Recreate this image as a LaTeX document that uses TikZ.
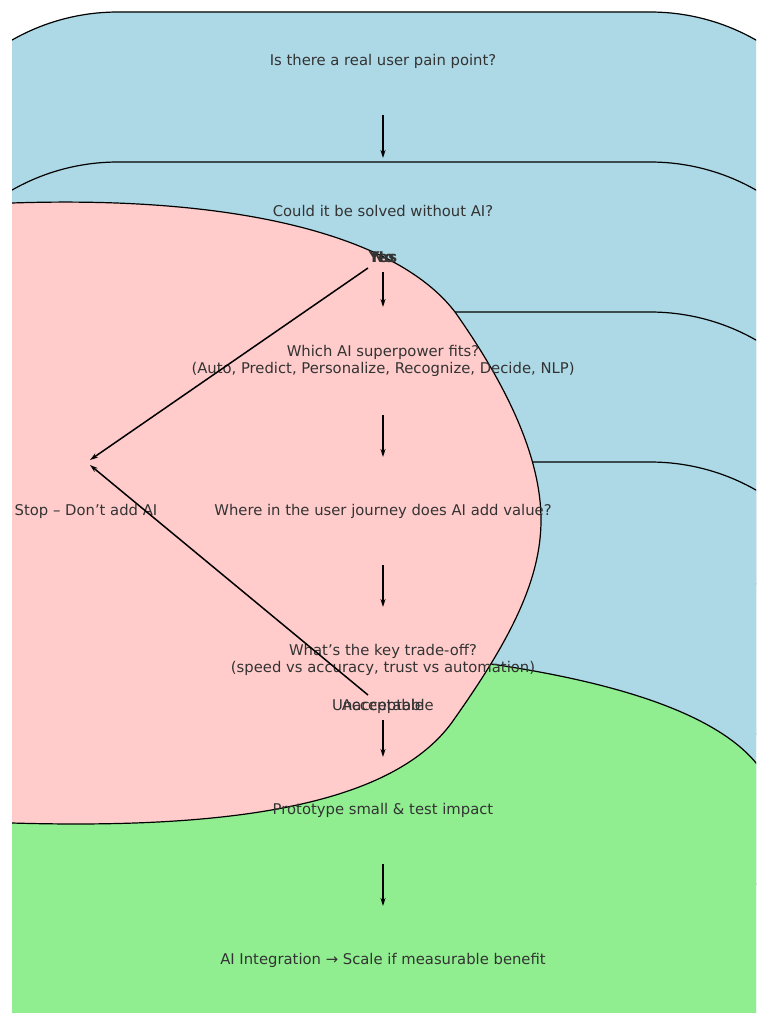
\documentclass[tikz,border=0pt]{standalone}
\usepackage{fontspec}
\setmainfont{DejaVu Sans}
\usetikzlibrary{arrows.meta}
\definecolor{boxblue}{HTML}{ADD8E6}
\definecolor{boxpink}{HTML}{FFCCCB}
\definecolor{boxgreen}{HTML}{90EE90}
\definecolor{txtgray}{HTML}{333333}
\tikzset{
	label/.style={text=txtgray, font=\fontsize{14.8}{17}\selectfont, align=center, inner sep=1pt},
	flow/.style={-{Stealth[length=8pt,width=5pt]}, line width=1.5pt},
	panel/.style={draw=black, line width=1.2pt}
}
\begin{document}
\begin{tikzpicture}[x=1pt,y=-1pt]
		\useasboundingbox (0,0) rectangle (768,1024);
		\fill[white] (0,0) rectangle (768,1024);

		\begin{scope}
			\clip (12,12) rectangle (756,1012);
			\foreach \top in {12,162,312,462} {
				\draw[panel, fill=boxblue, rounded corners=214pt] (-96,\top) rectangle (864,{\top+600});
			}
			\draw[panel, fill=boxgreen] (-20,680) -- (420,655) .. controls (560,670) and (710,700) .. (760,768) -- (760,1020) -- (-20,1020) -- cycle;
			\draw[panel, fill=boxpink] (-20,204) -- (12,203) .. controls (250,195) and (400,240) .. (455,312) .. controls (510,390) and (541,460) .. (541,520) .. controls (541,580) and (510,640) .. (455,718) .. controls (400,800) and (250,830) .. (12,823) -- (-20,822) -- cycle;
		\end{scope}

		\node[label] (pain) at (383,61) {Is there a real user pain point?};
		\node[label] (noai) at (383,211) {Could it be solved without AI?};
		\node[label] (yes) at (383,257) {\textbf{Yes}};
		\node[label] at (383,257) {\textbf{No}};
		\node[label] (power) at (383,361) {Which AI superpower fits?\\(Auto, Predict, Personalize, Recognize, Decide, NLP)};
		\node[label] (journey) at (383,511) {Where in the user journey does AI add value?};
		\node[label] (trade) at (383,660) {What’s the key trade-off?\\(speed vs accuracy, trust vs automation)};
		\node[label] (ok) at (383,706) {Acceptable};
		\node[label] at (383,706) {Unacceptable};
		\node[label] (proto) at (383,810) {Prototype small \& test impact};
		\node[label] (scale) at (383,960) {AI Integration → Scale if measurable benefit};
		\node[label] (stop) at (86,511) {Stop – Don’t add AI};

		\coordinate (a1) at (383,115); \coordinate (b1) at (383,158);
		\coordinate (a2) at (383,272); \coordinate (b2) at (383,307);
		\coordinate (a3) at (383,415); \coordinate (b3) at (383,457);
		\coordinate (a4) at (383,565); \coordinate (b4) at (383,607);
		\coordinate (a5) at (383,720); \coordinate (b5) at (383,757);
		\coordinate (a6) at (383,864); \coordinate (b6) at (383,906);
		\foreach \i in {1,...,6} {
			\draw[flow] (a\i) -- (b\i);
		}
		\coordinate (yesend) at (368,268);
		\coordinate (unend) at (368,695);
		\coordinate (stoptop) at (90,460);
		\coordinate (stopbot) at (90,465);
		\draw[flow] (yesend) -- (stoptop);
		\draw[flow] (unend) -- (stopbot);
	\end{tikzpicture}
\end{document}
